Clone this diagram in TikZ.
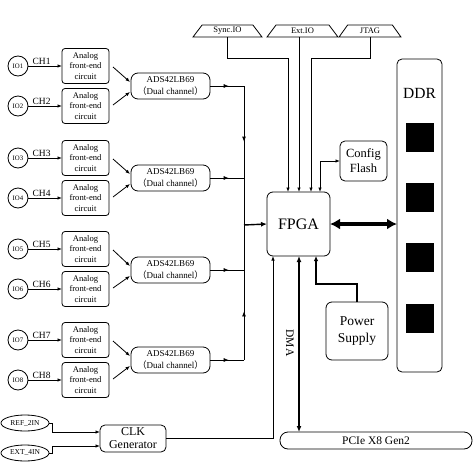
\documentclass[tikz,border=0pt]{standalone}
\usepackage{fontspec}
\setmainfont{Liberation Serif}
\newfontfamily\cjk{Noto Sans CJK SC}
\usetikzlibrary{arrows.meta,shapes.geometric,decorations.markings,calc}
\newcommand{\fsz}[2]{\fontsize{#1}{#2}\selectfont}
\begin{document}
\begin{tikzpicture}[x=1pt,y=-1pt,
  every node/.style={inner sep=0pt,outer sep=0pt},
  ln/.style={line width=0.8pt},
  tip/.style={-{Latex[length=4.5pt,width=3.5pt]}},
  midarrow/.style={postaction={decorate},decoration={markings,mark=at position #1 with {\arrow{Latex[length=5pt,width=4pt]}}}},
  iocirc/.style={draw,circle,minimum size=20pt,line width=0.8pt,font=\fsz{6.8}{6.8}},
  afe/.style={draw,rounded corners=3pt,minimum width=47pt,minimum height=35pt,align=center,font=\fsz{8.6}{10.5},line width=0.8pt},
  ads/.style={draw,rounded corners=7pt,minimum width=79pt,minimum height=26pt,align=center,font=\fsz{9}{11.5},line width=0.8pt},
  bigbox/.style={draw,rounded corners=5pt,align=center,line width=0.8pt},
  trap/.style={draw,trapezium,trapezium left angle=56,trapezium right angle=56,trapezium stretches=true,minimum height=12pt,line width=0.8pt,font=\fsz{8.5}{8.5}},
  inell/.style={draw,ellipse,minimum width=48pt,minimum height=16pt,line width=0.8pt,font=\fsz{7.5}{7.5}}
]
\fill[white] (0,0) rectangle (474,474);
\useasboundingbox (0,0) rectangle (474,474);

% channels
\foreach \i/\yy in {1/66,2/106,3/158,4/198,5/249,6/289,7/340,8/380} {
  \node[iocirc] (io\i) at (18,\yy) {IO\i};
  \node[afe] (afe\i) at (85.5,\yy) {Analog\\front-end\\circuit};
  \draw[ln,tip] (io\i) -- node[pos=0.4,above=1.5pt,font=\fsz{9.5}{9.5}] (ch\i) {CH\i} (afe\i);
}
% ADCs
\foreach \j/\yy in {1/86,2/178,3/270,4/360} {
  \node[ads] (ads\j) at (170.5,\yy) {ADS42LB69\\{\cjk （}Dual channel{\cjk ）}};
}
\foreach \a/\b/\j in {1/2/1,3/4/2,5/6/3,7/8/4} {
  \draw[ln,tip] ($(afe\a.east)+(4,1)$) -- ($(ads\j.west)+(-1,-4)$);
  \draw[ln,tip] ($(afe\b.east)+(4,-1)$) -- ($(ads\j.west)+(-1,6)$);
}

% FPGA
\node[bigbox,rounded corners=6pt,minimum width=63pt,minimum height=64pt,font=\fsz{16}{16}] (fpga) at (298.5,224) {FPGA};

% bus
\coordinate (bus) at (244,225);
\foreach \j in {1,2,3,4} {
  \draw[ln,midarrow=0.55] (ads\j.east) -- (ads\j.east -| bus);
}
\draw[ln,midarrow=0.4] (ads1.east -| bus) -- (bus);
\draw[ln,midarrow=0.36] (ads4.east -| bus) -- (bus);
\draw[line width=1.4pt,-{Latex[length=6pt,width=5pt]}] (bus) -- (fpga.west);

% top connectors
\node[trap,minimum width=69pt] (sync) at (227.5,31) {Sync.IO};
\node[trap,minimum width=71pt] (extio) at (302.5,31) {Ext.IO};
\node[trap,minimum width=62pt] (jtag) at (370,31) {JTAG};
\coordinate (ft1) at (288,192);
\coordinate (ft2) at (299,192);
\coordinate (ft3) at (311,192);
\coordinate (ft4) at (320,192);
\draw[ln,tip] (sync.south) -- ++(0,21) -| (ft1);
\draw[ln,tip] (extio.south -| ft2) -- (ft2);
\draw[ln,tip] (jtag.south) -- ++(0,21) -| (ft3);

% config flash
\node[bigbox,minimum width=47pt,minimum height=40pt,font=\fsz{12.5}{15}] (cfg) at (363.5,161) {Config\\Flash};
\draw[ln,{Latex[length=4.5pt,width=3.5pt]}-{Latex[length=4.5pt,width=3.5pt]}] (ft4) |- (cfg.west);

% DDR
\node[bigbox,minimum width=45pt,minimum height=313pt] (ddr) at (419.5,215.5) {};
\node[font=\fsz{15.5}{15.5}] (ddrl) at (419.5,93) {DDR};
\foreach \k/\yy in {1/137.5,2/197.5,3/257.5,4/318} {
  \node[fill=black,minimum width=28pt,minimum height=29pt] (chip\k) at (420,\yy) {};
}
\draw[line width=3.5pt,{Latex[length=10pt,width=11pt]}-{Latex[length=10pt,width=11pt]}] (fpga.east) -- (ddr.west |- fpga.east);

% power
\node[bigbox,rounded corners=6pt,minimum width=62pt,minimum height=58pt,font=\fsz{13.5}{17}] (psu) at (357,331) {Power\\Supply};
\coordinate (fb1) at (273,256);
\coordinate (fb2) at (299,256);
\coordinate (fb3) at (316,256);
\draw[line width=1.4pt,-{Latex[length=5pt,width=4.5pt]}] (psu.north) -- ++(0,-18) -| (fb3);

% PCIe
\node[draw,rounded corners=8pt,minimum width=192pt,minimum height=17pt,line width=0.8pt,font=\fsz{11.5}{11.5}] (pcie) at (376,440.5) {PCIe X8 Gen2};
\draw[line width=1.7pt,{Latex[length=6pt,width=5pt]}-{Latex[length=6pt,width=5pt]}] (fb2) -- (fb2 |- pcie.north);
\node[rotate=-90,font=\fsz{11.5}{11.5}] (dma) at (290,343) {DMA};

% clock
\node[bigbox,minimum width=66pt,minimum height=27pt,font=\fsz{12}{13}] (clk) at (133,438.5) {CLK\\Generator};
\draw[ln,tip] (clk.east) -| (fb1);
\node[inell] (ref) at (25,423) {REF\_2IN};
\node[inell] (ext4) at (25,453) {EXT\_4IN};
\coordinate (ci1) at (100,432);
\coordinate (ci2) at (100,446);
\draw[ln,tip] (ref.east) -- ++(3,0) |- (ci1);
\draw[ln,tip] (ext4.east) -- ++(3,0) |- (ci2);
\end{tikzpicture}
\end{document}
